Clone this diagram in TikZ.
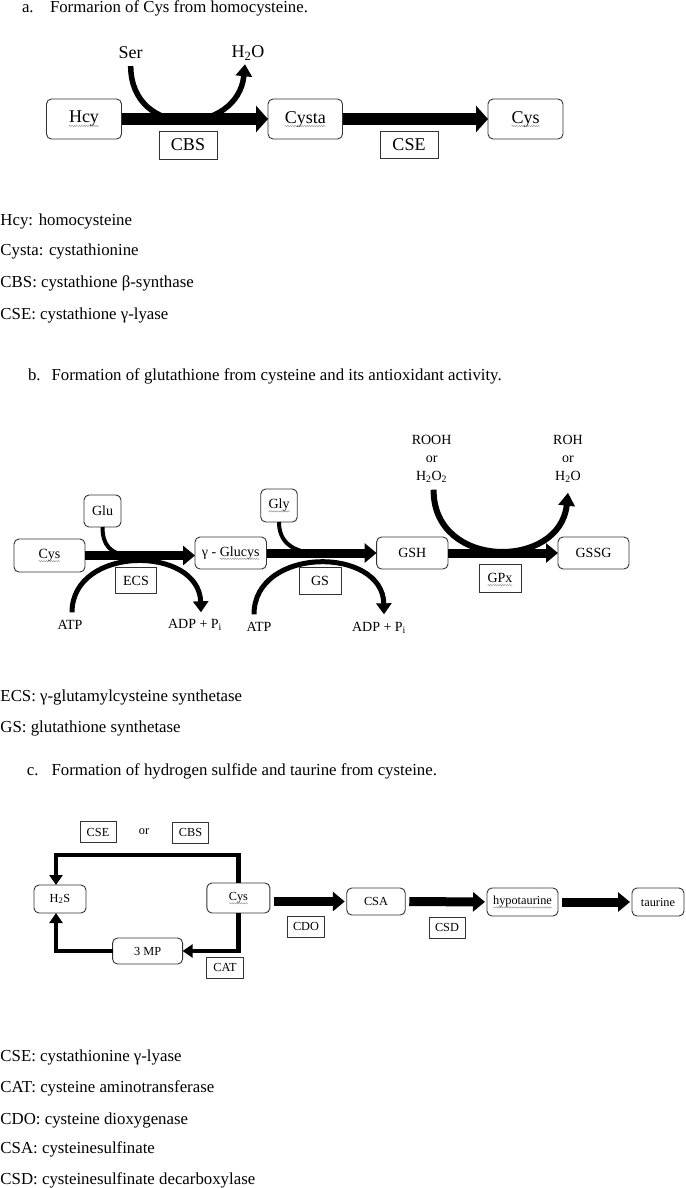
\documentclass[tikz,border=0pt]{standalone}
\usepackage{fontspec}
\setmainfont{Liberation Serif}
\usetikzlibrary{arrows.meta,calc,decorations.pathmorphing}
\tikzset{
  every node/.style={inner sep=0pt, outer sep=0pt},
  rbox/.style={draw=black!80, line width=0.9pt, rounded corners=5pt},
  ebox/.style={draw=black!80, line width=0.9pt},
  fa/.style={font=\fontsize{18}{20}\selectfont},
  fb/.style={font=\fontsize{14}{18}\selectfont},
  fc/.style={font=\fontsize{12.3}{14}\selectfont},
  ft/.style={font=\fontsize{16.8}{20}\selectfont, anchor=base west},
  squig/.style={draw=black!40, line width=0.5pt, decorate, decoration={snake, segment length=2.4pt, amplitude=0.6pt}},
  arrA/.style={line width=12pt, -{Triangle[length=12pt,width=26pt]}},
  arrB/.style={line width=9pt, -{Triangle[length=12pt,width=19pt]}},
  arrC/.style={line width=9pt, -{Triangle[length=12pt,width=19pt]}, shorten <=4pt, shorten >=2pt},
  curveA/.style={line width=5.5pt, -{Triangle[length=12pt,width=16pt]}},
  curveB/.style={line width=5pt, -{Triangle[length=11pt,width=15pt]}},
  curveC/.style={line width=6pt, -{Triangle[length=13pt,width=16pt]}},
  thinc/.style={line width=4pt},
  loopc/.style={line width=4.5pt, -{Triangle[length=10pt,width=13pt]}}
}
\begin{document}
\begin{tikzpicture}[x=1pt,y=-1pt]
\useasboundingbox (0,0) rectangle (685,1188);
% ---------- a ----------
\node[ft] (ta) at (22,13) {a.};
\node[ft] (tat) at (50,13) {Formarion of Cys from homocysteine.};
\node[rbox,minimum width=75pt,minimum height=40pt] (hcy) at (84,119) {};
\node[fa] (hcyt) at (hcy) {Hcy};
\node[rbox,minimum width=74.5pt,minimum height=40pt] (cysta) at (305.25,119) {};
\node[fa] (cystat) at (cysta) {Cysta};
\node[rbox,minimum width=75pt,minimum height=40pt] (cysa) at (525.5,119) {};
\node[fa] (cysat) at (cysa) {Cys};
\foreach \n in {hcyt,cystat,cysat}{\draw[squig] ($(\n.base west)+(0,3)$) -- ($(\n.base east)+(0,3)$);}
\node[ebox,fa,minimum width=58pt,minimum height=28pt] (cbs) at (188,145) {CBS};
\node[ebox,fa,minimum width=58pt,minimum height=27pt] (cse) at (409,144.5) {CSE};
\node[fa] (ser) at (130.7,53) {Ser};
\node[fa] (h2o) at (248,53) {H\textsubscript{2}O};
\draw[arrA] (hcy) -- (cysta);
\draw[arrA] (cysta) -- (cysa);
\draw[curveA] ($(ser.south)+(0,7)$) .. controls (131,140) and (238,135) .. ($(h2o.south)+(-3,4)$);
\node[ft] (la1) at (0.5,225) {Hcy: homocysteine};
\node[ft] (la2) at (0.5,255.5) {Cysta: cystathionine};
\node[ft] (la3) at (0.5,287) {CBS: cystathione β-synthase};
\node[ft] (la4) at (0.5,319.5) {CSE: cystathione γ-lyase};
% ---------- b ----------
\node[ft] (tb) at (28,380.5) {b.};
\node[ft] (tbt) at (51.6,380.5) {Formation of glutathione from cysteine and its antioxidant activity.};
\node[fb,align=center] (rooh) at (431.6,459) {ROOH\\or\\H\textsubscript{2}O\textsubscript{2}};
\node[fb,align=center] (roh) at (568,459) {ROH\\or\\H\textsubscript{2}O};
\node[rbox,fb,minimum width=37pt,minimum height=32pt] (glu) at (102.5,511) {Glu};
\node[rbox,minimum width=36.5pt,minimum height=33pt] (gly) at (279,505.5) {};
\node[fb] (glyt) at (gly) {Gly};
\node[rbox,minimum width=71pt,minimum height=33pt] (cysb) at (49.5,555.5) {};
\node[fb] (cysbt) at (cysb) {Cys};
\node[rbox,minimum width=71.5pt,minimum height=32pt] (glucys) at (230.75,553) {};
\node[fb] (glucyst) at (glucys) {γ - Glucys};
\node[rbox,fb,minimum width=71.4pt,minimum height=32pt] (gsh) at (412.3,553) {GSH};
\node[rbox,fb,minimum width=71pt,minimum height=32pt] (gssg) at (593.5,553) {GSSG};
\node[ebox,fb,minimum width=41pt,minimum height=26pt] (ecs) at (136,580.5) {ECS};
\node[ebox,fb,minimum width=42pt,minimum height=27pt] (gs) at (320,580.5) {GS};
\node[ebox,minimum width=42pt,minimum height=28pt] (gpx) at (500,578) {};
\node[fb] (gpxt) at (gpx) {GPx};
\foreach \n in {glyt,cysbt,gpxt}{\draw[squig] ($(\n.base west)+(0,2.5)$) -- ($(\n.base east)+(0,2.5)$);}
\draw[squig] ($(glucyst.base east)+(-39.5,2.5)$) -- ($(glucyst.base east)+(0,2.5)$);
\node[fb] (atp1) at (70,625) {ATP};
\node[fb] (adp1) at (195,625) {ADP + P\textsubscript{i}};
\node[fb] (atp2) at (259,627) {ATP};
\node[fb] (adp2) at (379,628) {ADP + P\textsubscript{i}};
\draw[arrB] (cysb.east) -- (cysb.east -| glucys.west);
\draw[arrB] (glucys) -- (gsh);
\draw[arrB] (gsh) -- (gssg);
\draw[thinc] (glu.south) .. controls (102.5,545) and (110,554) .. (130,556);
\draw[thinc] (gly.south) .. controls (279,542) and (292,552) .. (318,554);
\draw[curveB] ($(atp1.north)+(2,-8)$) .. controls (72,545) and (199,545) .. ($(adp1.north)+(6,-7)$);
\draw[curveB] ($(atp2.north)+(-5,-8)$) .. controls (254,546) and (383,546) .. ($(adp2.north)+(5,-8)$);
\draw[curveC] ($(rooh.south)+(2,7)$) .. controls (433,570) and (560,570) .. ($(roh.south)+(0,10)$);
\node[ft] (lb1) at (0.5,701.5) {ECS: γ-glutamylcysteine synthetase};
\node[ft] (lb2) at (0.5,732.5) {GS: glutathione synthetase};
% ---------- c ----------
\node[ft] (tc) at (27,775.5) {c.};
\node[ft] (tct) at (51.6,775.5) {Formation of hydrogen sulfide and taurine from cysteine.};
\node[ebox,fc,minimum width=36pt,minimum height=21pt] (csec) at (98,832) {CSE};
\node[fc] (orc) at (144,832) {or};
\node[ebox,fc,minimum width=36pt,minimum height=21pt] (cbsc) at (190.5,832.5) {CBS};
\node[rbox,minimum width=63pt,minimum height=30pt] (cysc) at (238.4,898) {};
\node[fc] (cysct) at (cysc) {Cys};
\node[rbox,fc,minimum width=52pt,minimum height=28pt] (h2s) at (60,899) {H\textsubscript{2}S};
\node[rbox,fc,minimum width=70pt,minimum height=26pt] (mp) at (147.6,951) {3 MP};
\node[ebox,fc,minimum width=37pt,minimum height=21pt] (cat) at (225,967.5) {CAT};
\node[rbox,fc,minimum width=58.5pt,minimum height=27pt] (csa) at (376,901.5) {CSA};
\node[rbox,minimum width=71pt,minimum height=28pt] (hypo) at (522.5,902) {};
\node[fc] (hypot) at (hypo) {hypotaurine};
\foreach \n in {cysct,hypot}{\draw[squig] ($(\n.base west)+(0,2.5)$) -- ($(\n.base east)+(0,2.5)$);}
\node[rbox,fc,minimum width=52pt,minimum height=28pt] (taur) at (658,902) {taurine};
\node[ebox,fc,minimum width=37pt,minimum height=21pt] (cdo) at (306,926.5) {CDO};
\node[ebox,fc,minimum width=36pt,minimum height=21pt] (csd) at (447,927.5) {CSD};
\draw[arrC] (cysc.east |- csa.west) -- (csa.west);
\draw[arrC] (csa) -- (hypo);
\draw[arrC] (hypo) -- (taur);
\draw[loopc] (cysc.north) -- ++(0,-28) -| ($(h2s.north)+(-4,0)$);
\draw[loopc] (cysc.south) |- (mp.east);
\draw[loopc] (mp.west) -| ($(h2s.south)+(-4,0)$);
\node[ft] (lc1) at (0.5,1061) {CSE: cystathionine γ-lyase};
\node[ft] (lc2) at (0.5,1092.5) {CAT: cysteine aminotransferase};
\node[ft] (lc3) at (0.5,1124.5) {CDO: cysteine dioxygenase};
\node[ft] (lc4) at (0.5,1153.5) {CSA: cysteinesulfinate};
\node[ft] (lc5) at (0.5,1184.5) {CSD: cysteinesulfinate decarboxylase};
\end{tikzpicture}
\end{document}
